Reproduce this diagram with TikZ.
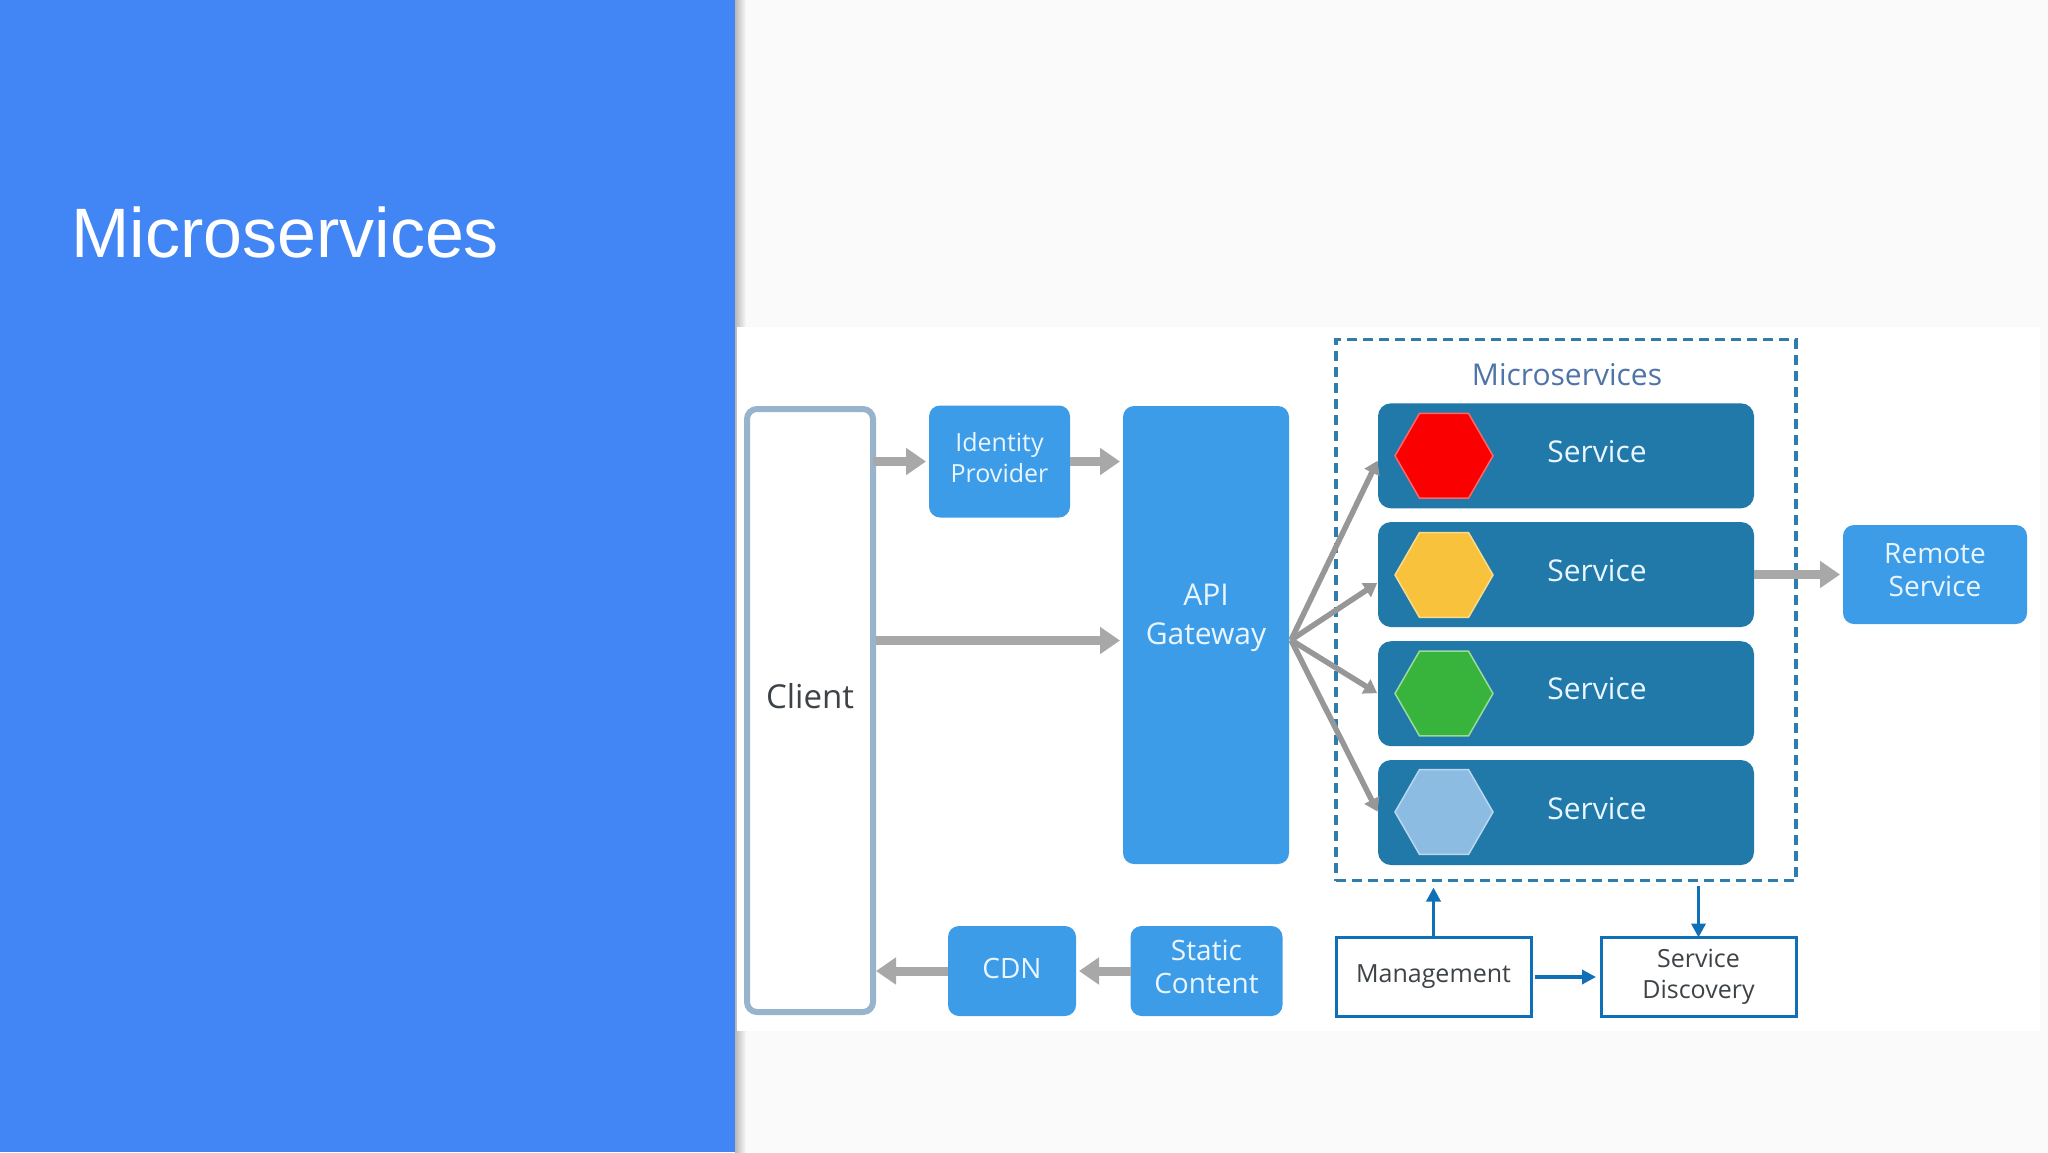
\documentclass[tikz,border=0pt]{standalone}
\usepackage{fontspec}
\setmainfont{Open Sans}
\newfontfamily\titlefont{Liberation Sans}
\usetikzlibrary{arrows.meta,shapes.geometric}
\definecolor{panel}{HTML}{4285F4}
\definecolor{pagebg}{HTML}{FAFAFB}
\definecolor{boxblue}{HTML}{3D9CE8}
\definecolor{svcblue}{HTML}{2079A9}
\definecolor{arrowgray}{HTML}{A8A8A8}
\definecolor{fangray}{HTML}{979797}
\definecolor{edgeblue}{HTML}{0F70B7}
\definecolor{clientedge}{HTML}{97B4CC}
\definecolor{dashblue}{HTML}{2F7DAA}
\definecolor{inktext}{HTML}{3E4347}
\definecolor{softwhite}{HTML}{EAF6FF}
\definecolor{grouptext}{HTML}{4F74A8}
\definecolor{hexred}{HTML}{FA0000}
\definecolor{hexyellow}{HTML}{F9C23C}
\definecolor{hexgreen}{HTML}{38B43C}
\definecolor{hexpale}{HTML}{8DBCE3}
\tikzset{
  box/.style={inner sep=0pt,outer sep=0pt,align=center,text=softwhite,font=\fontsize{25}{31}\selectfont},
  bluebox/.style={box,fill=boxblue,rounded corners=11pt},
  svcbox/.style={box,fill=svcblue,rounded corners=13pt,minimum width=376pt,minimum height=105pt},
  plainbox/.style={inner sep=0pt,outer sep=0pt,align=center,fill=white,draw=edgeblue,line width=3pt,text=inktext,font=\fontsize{25}{31}\selectfont,minimum height=79pt,minimum width=195pt},
  hex/.style={regular polygon,regular polygon sides=6,shape border rotate=0,minimum size=98pt,inner sep=0pt,outer sep=0pt,line width=1.5pt},
  svclabel/.style={inner sep=0pt,text=softwhite,font=\fontsize{30}{36}\selectfont},
  boxlabel/.style={inner sep=0pt,align=center,text=softwhite},
  fatarrow/.style={draw=arrowgray,line width=9pt,shorten >=3pt,-{Triangle[length=20pt,width=26pt]}},
  fanarrow/.style={draw=fangray,line width=5.5pt,shorten >=1pt,-{Triangle[length=13pt,width=16pt]}},
  bluearrow/.style={draw=edgeblue,line width=3.5pt,-{Triangle[length=14pt,width=14pt]}}
}
\begin{document}
\begin{tikzpicture}[x=1pt,y=-1pt]
\useasboundingbox (0,0) rectangle (2048,1152);
\fill[pagebg] (0,0) rectangle (2048,1152);
\shade[left color=black!28,right color=pagebg] (735,0) rectangle (746,1152);
\fill[panel] (0,0) rectangle (735,1152);
\fill[white] (737,327) rectangle (2040,1031);
\node[inner sep=0pt,anchor=west,text=white,font=\titlefont\fontsize{70}{80}\selectfont] (title) at (71,232) {Microservices};

\node[inner sep=0pt,outer sep=0pt,fill=white,draw=clientedge,line width=6pt,rounded corners=10pt,minimum width=126pt,minimum height=603pt] (client) at (810,710.5) {};
\node[inner sep=0pt,text=inktext,font=\fontsize{33}{40}\selectfont] (clientlabel) at (810,696) {Client};
\node[bluebox,minimum width=141pt,minimum height=112pt] (idp) at (999.5,461.5) {};
\node[boxlabel,font=\fontsize{25}{31}\selectfont] (idplabel) at (999.5,457.5) {Identity\\Provider};
\node[bluebox,minimum width=166pt,minimum height=458pt] (api) at (1206,635) {};
\node[boxlabel,font=\fontsize{30}{39}\selectfont] (apilabel) at (1206,618) {API\\Gateway};
\node[bluebox,minimum width=128pt,minimum height=90pt] (cdn) at (1012,971) {};
\node[boxlabel,font=\fontsize{28}{33}\selectfont] (cdnlabel) at (1012,968) {CDN};
\node[bluebox,minimum width=152pt,minimum height=90pt] (static) at (1206.5,971) {};
\node[boxlabel,font=\fontsize{28}{33}\selectfont] (staticlabel) at (1206.5,967) {Static\\Content};
\node[bluebox,minimum width=184pt,minimum height=99pt] (remote) at (1935,574.5) {};
\node[boxlabel,font=\fontsize{28}{33}\selectfont] (remotelabel) at (1935,570.5) {Remote\\Service};

\node[inner sep=0pt,outer sep=0pt,draw=dashblue,line width=3.5pt,dash pattern=on 10pt off 6pt,minimum width=460pt,minimum height=541pt] (group) at (1566,610) {};
\node[inner sep=0pt,text=grouptext,font=\fontsize{30}{36}\selectfont] (grouplabel) at (1567,375) {Microservices};

\node[svcbox] (svc1) at (1566,455.8) {};
\node[svcbox] (svc2) at (1566,574.5) {};
\node[svcbox] (svc3) at (1566,693.7) {};
\node[svcbox] (svc4) at (1566,812.5) {};
\node[hex,fill=hexred,draw=hexred!60!white] (hex1) at (1444,455.8) {};
\node[hex,fill=hexyellow,draw=hexyellow!60!white] (hex2) at (1444,575) {};
\node[hex,fill=hexgreen,draw=hexgreen!50!white] (hex3) at (1444,693.5) {};
\node[hex,fill=hexpale,draw=hexpale!60!white] (hex4) at (1444,812) {};
\node[svclabel] (s1) at (1597,452) {Service};
\node[svclabel] (s2) at (1597,571) {Service};
\node[svclabel] (s3) at (1597,689) {Service};
\node[svclabel] (s4) at (1597,809) {Service};

\node[plainbox] (mgmt) at (1433.5,977) {Management};
\node[plainbox] (disc) at (1698.5,977) {Service\\Discovery};

\coordinate (main) at (876,640.5);
\coordinate (fan) at (1291,640);
\draw[fatarrow] (client.east |- idp) -- (idp.west);
\draw[fatarrow] (idp.east) -- (api.west |- idp);
\draw[fatarrow] (main) -- (api.west |- main);
\draw[fatarrow] (cdn.west) -- (client.east |- cdn);
\draw[fatarrow] (static.west) -- (cdn.east);
\draw[fatarrow] (svc2.east) -- (remote.west);
\draw[fanarrow] (fan) -- ([yshift=-4pt]svc1.west);
\draw[fanarrow] (fan) -- ([yshift=-8pt]svc2.west);
\draw[fanarrow] (fan) -- (svc3.west);
\draw[fanarrow] (fan) -- (svc4.west);
\draw[bluearrow] (mgmt.north) -- ([yshift=-7pt]group.south -| mgmt);
\draw[bluearrow] ([yshift=-5pt]group.south -| disc) -- (disc.north);
\draw[bluearrow] ([xshift=4pt]mgmt.east) -- ([xshift=-5pt]disc.west);
\end{tikzpicture}
\end{document}
